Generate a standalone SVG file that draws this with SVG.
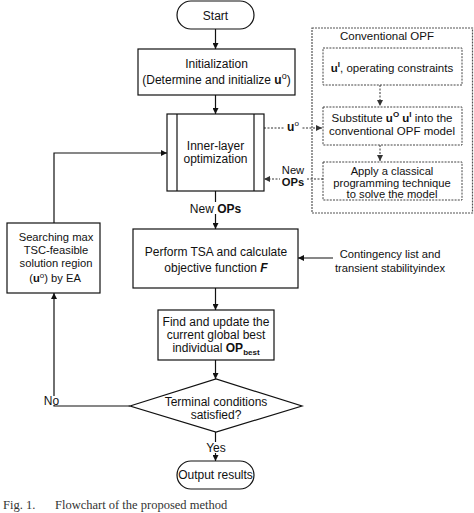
<svg xmlns="http://www.w3.org/2000/svg" width="474" height="513" viewBox="0 0 474 513">
<defs>
<marker id="ah" viewBox="0 0 10 10" refX="10" refY="5" markerWidth="6" markerHeight="6" markerUnits="userSpaceOnUse" orient="auto">
<path d="M0,0 L10,5 L0,10 z" fill="#111"/>
</marker>
<marker id="ahd" viewBox="0 0 10 10" refX="10" refY="5" markerWidth="6" markerHeight="6" markerUnits="userSpaceOnUse" orient="auto">
<path d="M0,0 L10,5 L0,10 z" fill="#333"/>
</marker>
</defs>
<style>
text{font-family:"Liberation Sans",Arial,sans-serif;font-size:12px;fill:#111;text-anchor:middle}
.box{fill:#fff;stroke:#111;stroke-width:1.2}
.dbox{fill:#fff;stroke:#444;stroke-width:1;stroke-dasharray:2,1.2}
.outer{fill:#fff;stroke:#555;stroke-width:1.2;stroke-dasharray:2,1}
.con{fill:none;stroke:#111;stroke-width:1.2;marker-end:url(#ah)}
.dcon{fill:none;stroke:#333;stroke-width:1;stroke-dasharray:2,1.5;marker-end:url(#ahd)}
.b{font-weight:bold}
.sm{font-size:11.5px}
.s11{font-size:11.2px}
.cap{font-family:"Liberation Serif","Times New Roman",serif;font-size:12.5px;text-anchor:start;fill:#333}
</style>

<g id="opf">
<rect class="outer" x="312" y="28" width="160.5" height="185"/>
<text class="sm" x="387" y="40">Conventional OPF</text>
</g>

<g id="opf1">
<rect class="dbox" x="323" y="48" width="139" height="37"/>
<text class="sm" x="392" y="72"><tspan class="b">u</tspan><tspan class="b" font-size="8" dy="-5">I</tspan><tspan dy="5">, operating constraints</tspan></text>
</g>

<g id="opf2">
<rect class="dbox" x="323" y="107" width="139" height="38"/>
<text class="sm" x="392" y="122">Substitute <tspan class="b">u</tspan><tspan class="b" font-size="8" dy="-5">O</tspan><tspan dy="5"> </tspan><tspan class="b">u</tspan><tspan class="b" font-size="8" dy="-5">I</tspan><tspan dy="5"> into the</tspan></text>
<text class="sm" x="392" y="135">conventional OPF model</text>
</g>

<g id="opf3">
<rect class="dbox" x="323" y="162" width="139" height="38"/>
<text class="s11" x="392" y="175">Apply a classical</text>
<text class="s11" x="392" y="187">programming technique</text>
<text class="s11" x="392" y="198">to solve the model</text>
</g>

<g id="connectors">
<path class="con" d="M215.5,29 V49"/>
<path class="con" d="M215.5,95 V114"/>
<path class="con" d="M215.5,191 V229"/>
<path class="con" d="M333,258 H298"/>
<path class="con" d="M215.5,288 V310"/>
<path class="con" d="M215.5,360 V379"/>
<path class="con" d="M215.5,432 V461"/>
<path class="con" d="M130,406 H54 V293"/>
<path class="con" d="M54,223 V153 H167"/>
<path class="dcon" d="M264,128 H322"/>
<path class="dcon" d="M323,179 H264"/>
<path class="dcon" d="M380,85 V106"/>
<path class="dcon" d="M380,145 V161"/>
<rect x="284" y="119" width="18" height="12" fill="#fff"/>
<text x="293" y="131"><tspan class="b">u</tspan><tspan font-size="8" dy="-5">o</tspan></text>
<rect x="280" y="163" width="27" height="24" fill="#fff"/>
<text class="s11" x="293" y="174">New</text>
<text class="b s11" x="293" y="186">OPs</text>
<rect x="190" y="202" width="52" height="12" fill="#fff"/>
<text x="215.5" y="213">New <tspan class="b">OPs</tspan></text>
<rect x="206" y="442" width="20" height="11" fill="#fff"/>
<text x="216" y="452">Yes</text>
<rect x="44" y="396" width="15" height="9" fill="#fff"/>
<text x="51.5" y="405">No</text>
<text class="s11" x="390" y="258">Contingency list and</text>
<text class="s11" x="390" y="272">transient stabilityindex</text>
</g>

<g id="start">
<rect class="box" x="177" y="1" width="77" height="28" rx="14"/>
<text x="215.5" y="19.5">Start</text>
</g>

<g id="init">
<rect class="box" x="138" y="49" width="157" height="46"/>
<text x="216.5" y="68" font-size="12.5">Initialization</text>
<text x="216.5" y="84" font-size="12.5">(Determine and initialize <tspan class="b">u</tspan><tspan font-size="9" dy="-5">o</tspan><tspan dy="5">)</tspan></text>
</g>

<g id="inner">
<rect class="box" x="167" y="114" width="97" height="77"/>
<line x1="177" y1="114" x2="177" y2="191" stroke="#111" stroke-width="1.2"/>
<line x1="254" y1="114" x2="254" y2="191" stroke="#111" stroke-width="1.2"/>
<text x="215.5" y="150">Inner-layer</text>
<text x="215.5" y="163">optimization</text>
</g>

<g id="search">
<rect class="box" x="7" y="223" width="93" height="70"/>
<text class="s11" x="56" y="241">Searching max</text>
<text class="s11" x="56" y="254">TSC-feasible</text>
<text class="s11" x="56" y="267">solution region</text>
<text class="s11" x="55" y="282">(<tspan class="b">u</tspan><tspan font-size="8" dy="-4">o</tspan><tspan dy="4">) by EA</tspan></text>
</g>

<g id="tsa">
<rect class="box" x="133" y="229" width="165" height="59"/>
<text x="216" y="256">Perform TSA and calculate</text>
<text x="216" y="272">objective function <tspan font-weight="bold" font-style="italic">F</tspan></text>
</g>

<g id="find">
<rect class="box" x="158" y="310" width="116" height="50"/>
<text x="216" y="326">Find and update the</text>
<text x="216" y="339">current global best</text>
<text x="216" y="352">individual <tspan class="b">OP</tspan><tspan class="b" font-size="8" dy="3">best</tspan></text>
</g>

<g id="decision">
<polygon class="box" points="130,406 216,379 302,406 216,432"/>
<text x="216" y="406">Terminal conditions</text>
<text x="216" y="419">satisfied?</text>
</g>

<g id="output">
<rect class="box" x="177" y="461" width="77" height="28" rx="14"/>
<text x="215.5" y="479">Output results</text>
</g>

<text class="cap" x="3" y="509">Fig. 1.<tspan x="55">Flowchart of the proposed method</tspan></text>
</svg>
